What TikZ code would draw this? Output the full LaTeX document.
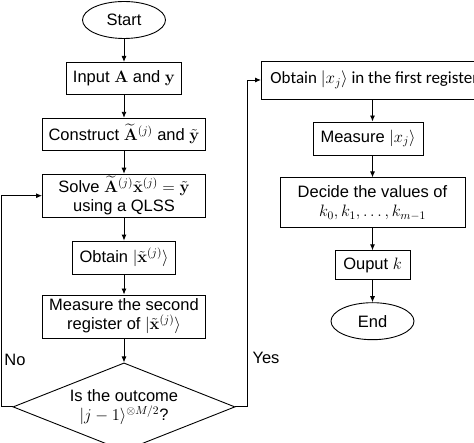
\documentclass[tikz,border=0pt]{standalone}
\usepackage{fix-cm}
\usepackage{amsmath}
\usepackage[no-math]{fontspec}
\setmainfont{Liberation Sans}
\newfontfamily\calfont{Carlito}
\usetikzlibrary{shapes.geometric, arrows.meta, positioning}

\begin{document}
\begin{tikzpicture}[
    x=1pt, y=-1pt,
    node distance=23pt,
    every node/.style={font=\fontsize{16.5}{19}\selectfont},
    block/.style={rectangle, draw, line width=0.9pt, align=center, inner sep=2pt, minimum height=32pt},
    term/.style={ellipse, draw, line width=0.9pt, minimum width=83pt, minimum height=37pt, inner sep=0pt},
    decision/.style={diamond, draw, line width=0.9pt, aspect=2.5, minimum width=222pt, minimum height=88pt, inner sep=0pt, align=center},
    line/.style={draw, line width=0.9pt, -{Latex[length=6pt,width=5pt]}}
]
\useasboundingbox (0,0) rectangle (474,443);
\clip (0,0) rectangle (474,443);

% Left column
\node [term] (start) at (124,20) {Start};
\node [block, minimum width=115pt, below=23pt of start] (input) {Input $\mathbf{A}$ and $\mathbf{y}$};
\node [block, minimum width=163pt, below=23pt of input] (construct) {Construct $\widetilde{\mathbf{A}}^{(j)}$ and $\tilde{\mathbf{y}}$};
\node [block, minimum width=163pt, minimum height=43pt, below=23pt of construct] (solve) {Solve $\widetilde{\mathbf{A}}^{(j)}\tilde{\mathbf{x}}^{(j)}=\tilde{\mathbf{y}}$\\using a QLSS};
\node [block, minimum width=103pt, minimum height=33pt, below=23pt of solve] (obtain) {Obtain $|\tilde{\mathbf{x}}^{(j)}\rangle$};
\node [block, minimum width=163pt, minimum height=43pt, below=20pt of obtain] (measure) {Measure the second\\register of $|\tilde{\mathbf{x}}^{(j)}\rangle$};
\node [decision, below=24pt of measure] (check) {Is the outcome\\$|j-1\rangle^{\otimes M/2}$?};

% Right column
\node [block, anchor=west, minimum height=38pt, inner xsep=9pt, font=\calfont\fontsize{17}{21}\selectfont] (obtainx) at (261,80) {Obtain $|x_j\rangle$ in the first register};
\node [block, minimum width=110pt, minimum height=33pt] (measx) at (368,138.5) {Measure $|x_j\rangle$};
\node [block, minimum width=185pt, minimum height=50pt, below=22pt of measx, xshift=4.5pt] (decide) {Decide the values of\\$k_0,k_1,\dots,k_{m-1}$};
\node [block, minimum width=75pt, minimum height=29pt, below=22pt of decide] (output) {Ouput $k$};
\node [term, below=22pt of output] (end) {End};

% Lines
\path [line] (start) -- (input);
\path [line] (input) -- (construct);
\path [line] (construct) -- (solve);
\path [line] (solve) -- (obtain);
\path [line] (obtain) -- (measure);
\path [line] (measure) -- (check);
\path [line] (check.west) -- ++(-11.5,0) |- (solve.west);
\path [line] (check.east) -- ++(12,0) |- (obtainx.west);
\path [line] (obtainx.south -| decide) -- (measx.north -| decide);
\path [line] (measx.south -| decide) -- (decide);
\path [line] (decide) -- (output);
\path [line] (output) -- (end);

% Labels
\node (no) at (15,360) {No};
\node (yes) at (266,358) {Yes};

\end{tikzpicture}
\end{document}
